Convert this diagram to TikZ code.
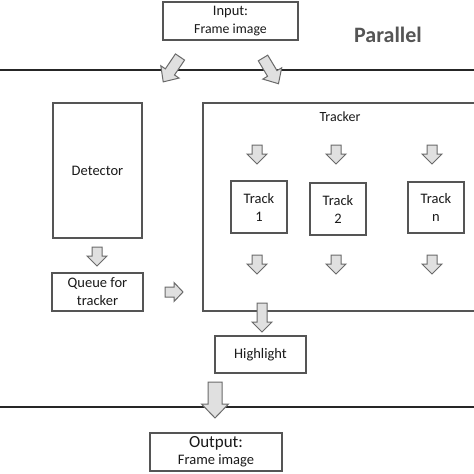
\documentclass[tikz,border=0pt]{standalone}
\usepackage{fontspec}
\setmainfont{Carlito}
\definecolor{boxline}{HTML}{555555}
\definecolor{arrline}{HTML}{6A6A6A}
\definecolor{arrfill}{HTML}{E0E0E0}
\definecolor{txt}{HTML}{1A1A1A}
\tikzset{
  box/.style={draw=boxline, line width=1.2pt, rectangle, inner sep=0pt, align=center, text=txt, font=\fontsize{14.5}{18}\selectfont},
  sepline/.style={draw=black!85, line width=1.3pt},
  blockarr/.style={draw=arrline, fill=arrfill, line width=1pt, line join=miter},
  lbl/.style={inner sep=0pt, text=txt, font=\fontsize{14}{18}\selectfont}
}
% #1 x, #2 y (tail centre), #3 rotation, #4 length, #5 shaft half width, #6 head half width, #7 head length
\newcommand{\blockarrow}[7]{%
  \begin{scope}[shift={(#1,#2)},rotate=#3]
    \draw[blockarr] (-#5,0) -- (#5,0) -- (#5,{#4-#7}) -- (#6,{#4-#7}) -- (0,#4) -- (-#6,{#4-#7}) -- (-#5,{#4-#7}) -- cycle;
  \end{scope}}
\begin{document}
\begin{tikzpicture}[x=1pt,y=-1pt]
\useasboundingbox (0,0) rectangle (474,474);
\clip (0,0) rectangle (474,474);
\fill[white] (0,0) rectangle (474,474);
% separator lines
\coordinate (l1a) at (0,70);
\coordinate (l1b) at (474,70);
\coordinate (l2a) at (0,407);
\coordinate (l2b) at (474,407);
\draw[sepline] (l1a) -- (l1b);
\draw[sepline] (l2a) -- (l2b);
% boxes
\node[box, minimum width=135, minimum height=38] (input) at (230.5,21)
  {{\fontsize{14.5}{16}\selectfont Input:}\\[0pt]{\fontsize{13.8}{15}\selectfont Frame image}};
\node[inner sep=0pt, text=boxline, font=\fontsize{22}{24}\selectfont\bfseries] (parallel) at (388,35) {Parallel};
\node[box, minimum width=89, minimum height=135] (detector) at (97.5,170.5) {Detector};
\node[box, minimum width=91, minimum height=38] (queue) at (97.5,292) {Queue for\\tracker};
\node[box, minimum width=290, minimum height=208] (tracker) at (348,207) {};
\node[lbl] (trackerlbl) at (340,117) {Tracker};
\node[box, minimum width=56, minimum height=52] (track1) at (259,207) {Track\\1};
\node[box, minimum width=56, minimum height=52] (track2) at (338,209) {Track\\2};
\node[box, minimum width=56, minimum height=51] (trackn) at (436,207.5) {Track\\n};
\node[box, minimum width=91, minimum height=37] (highlight) at (260.5,354.5) {Highlight};
\node[box, minimum width=132, minimum height=38] (output) at (216,452)
  {{\fontsize{17}{19}\selectfont Output:}\\[-1pt]{\fontsize{14.5}{15}\selectfont Frame image}};
% block arrows
\blockarrow{180}{57}{-34}{30}{5.5}{11}{12}
\blockarrow{263}{58}{31}{30}{5.5}{11}{12}
\blockarrow{97}{247}{0}{19}{5}{10}{10}
\blockarrow{165}{292}{90}{18}{5}{9.5}{9}
\foreach \xx in {257,336,432}{
  \blockarrow{\xx}{145}{0}{19}{5}{10}{10}
  \blockarrow{\xx}{255}{0}{19}{5}{10}{10}
}
\blockarrow{262}{303}{0}{29}{5}{10}{10}
\blockarrow{215}{382}{0}{36}{7}{13.5}{14}
\end{tikzpicture}
\end{document}
